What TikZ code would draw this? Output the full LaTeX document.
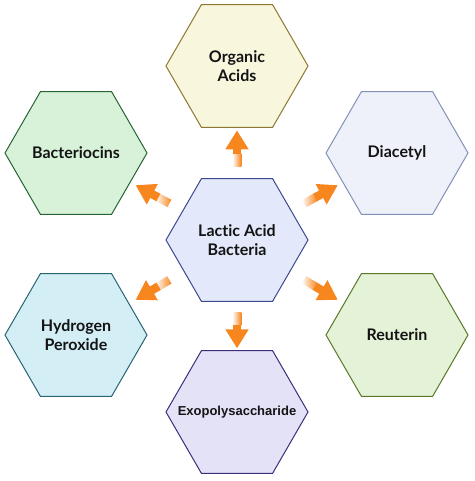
\documentclass[tikz,border=0pt]{standalone}
\usepackage{fontspec}
\setmainfont{Lato}[Ligatures=NoCommon]
\newfontfamily\exofont{Liberation Sans}
\usetikzlibrary{shapes.geometric,arrows.meta,calc}
\definecolor{labfill}{RGB}{227,233,250}  \definecolor{labline}{RGB}{62,72,140}
\definecolor{orgfill}{RGB}{249,246,222}  \definecolor{orgline}{RGB}{140,120,50}
\definecolor{bacfill}{RGB}{216,242,218}  \definecolor{bacline}{RGB}{40,100,52}
\definecolor{diafill}{RGB}{238,241,249}  \definecolor{dialine}{RGB}{130,145,182}
\definecolor{hpxfill}{RGB}{212,238,245}  \definecolor{hpxline}{RGB}{40,100,115}
\definecolor{reufill}{RGB}{228,242,216}  \definecolor{reuline}{RGB}{90,120,40}
\definecolor{exofill}{RGB}{228,226,246}  \definecolor{exoline}{RGB}{62,45,122}
\definecolor{arroworange}{RGB}{247,134,31}
\definecolor{labeltext}{RGB}{20,20,20}
\tikzset{
  hexa/.style={regular polygon, regular polygon sides=6, minimum size=142pt, inner sep=-10pt,
    line width=1pt, align=center, text=labeltext, font=\bfseries\fontsize{16}{19}\selectfont},
  outarrow/.style={line width=8.5pt, draw=arroworange, -{Triangle[width=22pt,length=19pt]}}
}
\begin{document}
\begin{tikzpicture}[x=1pt,y=1pt]
	\useasboundingbox (0,0) rectangle (474,-481);
	% centre and the six products
	\node[hexa, draw=labline, fill=labfill] (lab) at (237,-240) {Lactic Acid\\Bacteria};
	\node[hexa, draw=orgline, fill=orgfill] (org) at (237,-66) {Organic\\Acids};
	\node[hexa, draw=bacline, fill=bacfill] (bac) at (76,-153) {Bacteriocins};
	\node[hexa, draw=dialine, fill=diafill] (dia) at (397,-153) {Diacetyl};
	\node[hexa, draw=hpxline, fill=hpxfill] (hpx) at (76,-335) {Hydrogen\\Peroxide};
	\node[hexa, draw=reuline, fill=reufill] (reu) at (397,-335) {Reuterin};
	\node[hexa, draw=exoline, fill=exofill, inner sep=-30pt,
		font=\exofont\bfseries\fontsize{13}{15}\selectfont] (exo) at (237,-412) {Exopolysaccharide};
	% arrows, tail fades out
	\foreach \t/\a in {org/90, bac/151.6, dia/28.5, hpx/210.5, reu/-30.7, exo/-90} {
		\coordinate (s) at ($(lab)!0.42!(\t)$);
		\coordinate (e) at ($(lab)!0.63!(\t)$);
		\begin{scope}[shift={(s)}, rotate=\a]
			\shade[left color=arroworange!5, right color=arroworange] (0,-4.25) rectangle (13,4.25);
			\coordinate (m) at (12.5,0);
		\end{scope}
		\draw[outarrow] (m) -- (e);
	}
\end{tikzpicture}
\end{document}
